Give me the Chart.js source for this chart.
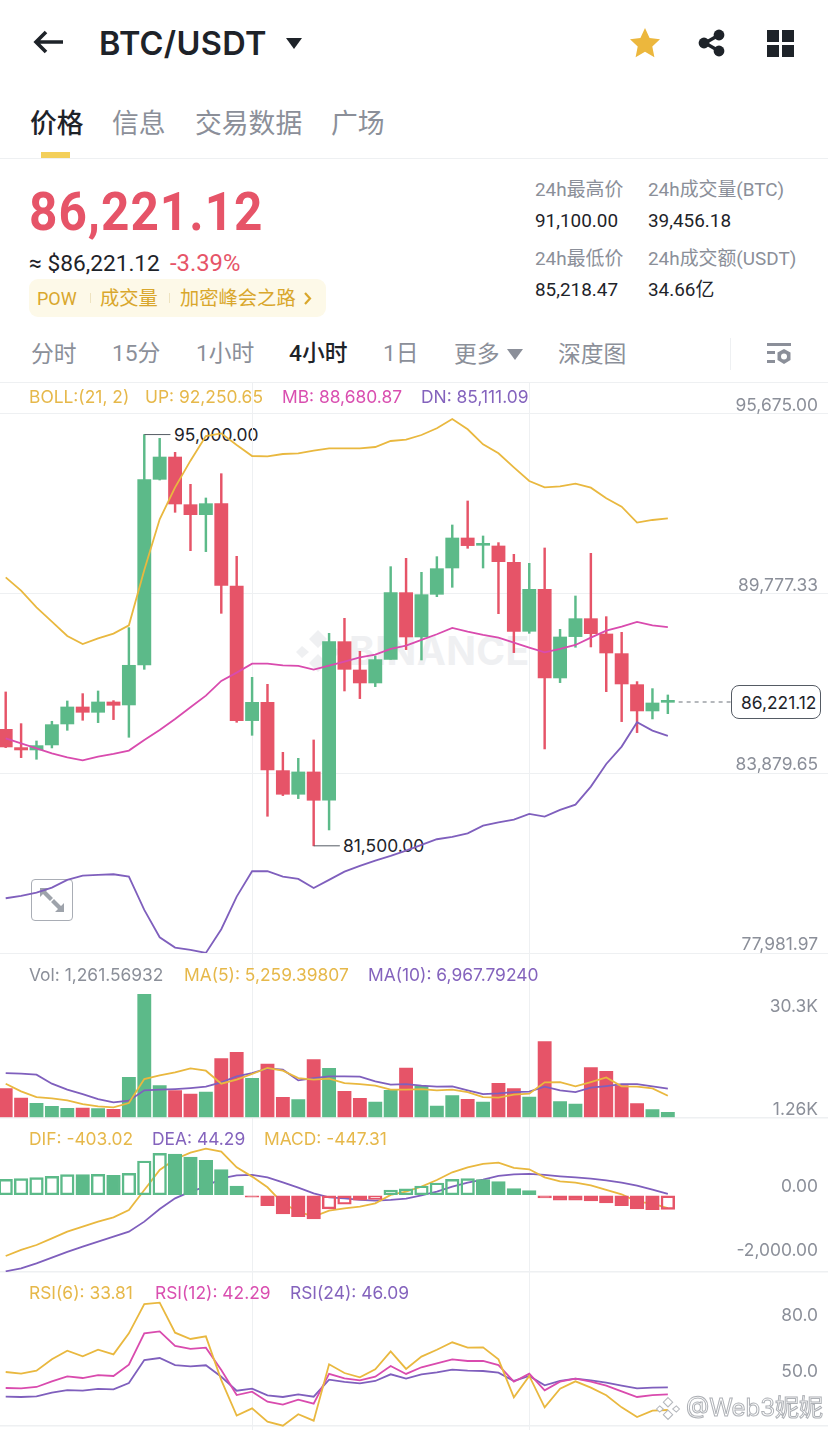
<!DOCTYPE html>
<html><head><meta charset="utf-8">
<script src="https://cdn.jsdelivr.net/npm/chart.js@4"></script>
<style>
html,body{margin:0;padding:0;background:#fff;width:828px;height:1430px;overflow:hidden}
body{position:relative;font-family:Inter,"Noto Sans CJK SC",sans-serif;color:#1e2329}
.t{position:absolute;white-space:nowrap;transform:translateY(-50%);line-height:1}
.g{color:#8b8f99}.y{color:#e6b84a}.m{color:#d94fb0}.p{color:#8463bd}
.f17{font-size:17.4px}.f23{font-size:22.8px}.f26{font-size:26.8px}.f19{font-size:18.9px}
canvas{position:absolute;left:0;top:382px;z-index:2}
svg{position:absolute}
</style></head><body>

<svg style="left:33px;top:29px" width="32" height="26" viewBox="0 0 32 26"><path d="M30 13H4M13 3L3 13l10 10" fill="none" stroke="#1e2329" stroke-width="3.6"/></svg>
<div class="t" style="left:99px;top:44px;font-size:32.5px;font-weight:600;letter-spacing:.3px">BTC/USDT</div>
<svg style="left:285px;top:37px" width="18" height="12"><path d="M1 1h16l-8 11z" fill="#1e2329"/></svg>
<svg style="left:629px;top:27px" width="32" height="32" viewBox="0 0 32 32"><path d="M16 1l4.6 10 10.4 1.2-7.7 7.2 2.1 10.8L16 24.8 6.6 30.2l2.1-10.8L1 12.2 11.4 11z" fill="#ecb73d"/></svg>
<svg style="left:697px;top:28px" width="30" height="30" viewBox="0 0 30 30"><path d="M22 7L8 15l14 8" stroke="#1e2329" stroke-width="3.4" fill="none"/><circle cx="22" cy="7" r="5.4" fill="#1e2329"/><circle cx="7" cy="15" r="5.4" fill="#1e2329"/><circle cx="22" cy="23" r="5.4" fill="#1e2329"/></svg>
<svg style="left:767px;top:30px" width="27" height="27"><path d="M0 0h12v12H0zM15 0h12v12H15zM0 15h12v12H0zM15 15h12v12H15z" fill="#1e2329"/></svg>

<div class="t f26" style="left:30px;top:123px;font-weight:500;">价格</div>
<div class="t f26 g" style="left:112px;top:123px">信息</div>
<div class="t f26 g" style="left:195px;top:123px">交易数据</div>
<div class="t f26 g" style="left:331px;top:123px">广场</div>
<div style="position:absolute;left:41px;top:152px;width:29px;height:6px;background:#f3cf5a"></div>
<div style="position:absolute;left:0;top:158px;width:828px;height:1px;background:#eef0f2"></div>

<div class="t" style="left:29px;top:212px;font-family:Roboto,sans-serif;font-size:54px;font-weight:700;color:#e65468;letter-spacing:1.1px;transform:translateY(-50%) scaleX(.917);transform-origin:left center">86,221.12</div>
<div class="t" style="left:29px;top:264px;font-family:Roboto,sans-serif;font-size:22.7px;">≈ $86,221.12</div>
<div class="t" style="left:170px;top:264px;font-family:Roboto,sans-serif;font-size:23.8px;color:#e65468">-3.39%</div>
<div style="position:absolute;left:29px;top:279px;width:297px;height:38px;border-radius:9px;background:#fdf9e8"></div>
<div class="t" style="left:37px;top:299px;font-size:18px;color:#d9a72c;font-family:Roboto,sans-serif">POW</div>
<div class="t" style="left:100px;top:299px;font-size:19.3px;color:#d9a72c">成交量</div>
<div class="t" style="left:180px;top:299px;font-size:19.3px;color:#d9a72c">加密峰会之路</div>
<svg style="left:303px;top:292px" width="9" height="13"><path d="M2 1l5 5.5L2 12" fill="none" stroke="#d9a72c" stroke-width="2.2"/></svg>
<div style="position:absolute;left:90px;top:293px;width:1px;height:10px;background:#eee3bf"></div>
<div style="position:absolute;left:169px;top:293px;width:1px;height:10px;background:#eee3bf"></div>

<div class="t g f19" style="left:535px;top:190px;font-family:Roboto,'Noto Sans CJK SC'">24h最高价</div>
<div class="t g f19" style="left:648px;top:190px;font-family:Roboto,'Noto Sans CJK SC'">24h成交量(BTC)</div>
<div class="t f19" style="left:535px;top:221px;font-family:Roboto,'Noto Sans CJK SC'">91,100.00</div>
<div class="t f19" style="left:648px;top:221px;font-family:Roboto,'Noto Sans CJK SC'">39,456.18</div>
<div class="t g f19" style="left:535px;top:259px;font-family:Roboto,'Noto Sans CJK SC'">24h最低价</div>
<div class="t g f19" style="left:648px;top:259px;font-family:Roboto,'Noto Sans CJK SC'">24h成交额(USDT)</div>
<div class="t f19" style="left:535px;top:290px;font-family:Roboto,'Noto Sans CJK SC'">85,218.47</div>
<div class="t f19" style="left:648px;top:290px;font-family:Roboto,'Noto Sans CJK SC'">34.66亿</div>

<div class="t f23 g" style="left:31px;top:354px">分时</div>
<div class="t f23 g" style="left:112px;top:354px;font-family:Roboto,'Noto Sans CJK SC'">15分</div>
<div class="t f23 g" style="left:196px;top:354px;font-family:Roboto,'Noto Sans CJK SC'">1小时</div>
<div class="t f23" style="left:289px;top:354px;font-weight:500;font-family:Roboto,'Noto Sans CJK SC'">4小时</div>
<div class="t f23 g" style="left:383px;top:354px;font-family:Roboto,'Noto Sans CJK SC'">1日</div>
<div class="t f23 g" style="left:454px;top:354px">更多</div>
<svg style="left:507px;top:349px" width="16" height="11"><path d="M0 0h16l-8 11z" fill="#8b8f99"/></svg>
<div class="t f23 g" style="left:558px;top:354px">深度图</div>
<div style="position:absolute;left:730px;top:338px;width:1px;height:32px;background:#eef0f2"></div>
<svg style="left:766px;top:342px" width="26" height="25" viewBox="0 0 26 25"><path d="M1 1h24v3H1zM1 9h8v3H1zM1 18h8v3H1z" fill="#8b8f99"/><path d="M18 7l6.5 3.6v7.4L18 22l-6.5-4v-7.4z" fill="#8b8f99"/><circle cx="18" cy="14.5" r="3" fill="#fff"/></svg>

<svg style="left:295px;top:627px" width="46" height="50" viewBox="0 0 46 50"><path d="M23 3l9 9-9 9-9-9zM7 19l7 6-7 6-6-6zM39 19l6 6-6 6-7-6zM23 27l9 9-9 9-9-9z" fill="#eff0f2"/></svg>
<div class="t" style="left:349px;top:650px;font-size:39px;font-weight:700;color:#eff0f2;letter-spacing:.4px">BINANCE</div>
<div style="position:absolute;left:31px;top:879px;width:40px;height:40px;border:1px solid #a9adb5;border-radius:4px"></div>
<svg style="left:39px;top:887px" width="26" height="26" viewBox="0 0 26 26"><path d="M1 1h9L7 4l7 7-3 3-7-7-3 3zM25 25h-9l3-3-7-7 3-3 7 7 3-3z" fill="#9ea3ab"/></svg>

<canvas id="c" width="828" height="1048" style="width:828px;height:1048px"></canvas>

<div class="t y f17" style="left:29px;top:397px;z-index:3">BOLL:(21, 2)</div>
<div class="t y f17" style="left:145px;top:397px;z-index:3">UP: 92,250.65</div>
<div class="t m f17" style="left:282px;top:397px;z-index:3">MB: 88,680.87</div>
<div class="t p f17" style="left:421px;top:397px;z-index:3">DN: 85,111.09</div>

<div class="t f17" style="left:174px;top:435px;z-index:1;">95,000.00</div>
<div class="t f17" style="left:343px;top:846px;z-index:1;">81,500.00</div>

<div style="position:absolute;left:731px;top:685px;width:88px;height:32px;border:1px solid #555b64;border-radius:8px;background:#fff;z-index:3"></div>
<div class="t f17" style="left:741px;top:703px;z-index:4">86,221.12</div>

<div class="t g f17" style="left:29px;top:975px;z-index:3">Vol: 1,261.56932</div>
<div class="t y f17" style="left:184px;top:975px;z-index:3">MA(5): 5,259.39807</div>
<div class="t p f17" style="left:368px;top:975px;z-index:3">MA(10): 6,967.79240</div>

<div class="t y f17" style="left:29px;top:1139px;z-index:3">DIF: -403.02</div>
<div class="t p f17" style="left:152px;top:1139px;z-index:3">DEA: 44.29</div>
<div class="t y f17" style="left:264px;top:1139px;z-index:3">MACD: -447.31</div>

<div class="t y f17" style="left:29px;top:1293px;z-index:3">RSI(6): 33.81</div>
<div class="t m f17" style="left:155px;top:1293px;z-index:3">RSI(12): 42.29</div>
<div class="t p f17" style="left:290px;top:1293px;z-index:3">RSI(24): 46.09</div>

<svg style="left:655px;top:1396px;z-index:3" width="26" height="26" viewBox="0 0 46 50"><path d="M23 3l9 9-9 9-9-9zM7 19l7 6-7 6-6-6zM39 19l6 6-6 6-7-6zM23 27l9 9-9 9-9-9z" fill="#fff" stroke="#b5b8bd" stroke-width="2"/></svg>
<div class="t" style="left:686px;top:1408px;z-index:3;font-size:24px;color:#fff;-webkit-text-stroke:1px #aeb1b6;">@Web3妮妮</div>

<script>
const opens=[85325,84724,84647,84811,85500,86058,85883,86222,86124,87437,93530,94263,92699,92371,92732,90029,85610,86211,83969,83192,83925,82995,88202,87272,86846,87623,89811,88356,89756,90620,91605,91365,91343,90806,88542,89920,87010,88367,88957,88454,87809,86791,85927,86211];
const closes=[84745,84647,84789,85478,86058,85883,86222,86113,87426,93519,94263,92721,92371,92732,90051,85610,86211,83991,83192,83925,82995,88202,87294,86846,87612,89811,88356,89745,90598,91605,91354,91398,90828,88542,89920,87010,88356,88957,88465,87830,86813,85927,86189,86221.12];
const highs=[86551,85511,84942,85588,86255,86496,86583,86266,88662,95000,94876,94416,93367,92918,93716,91003,87032,86802,84570,84373,84975,88476,88968,87885,87732,90664,90938,90478,90992,92032,92820,91671,91452,91069,90774,91277,88607,89701,91102,89023,88509,86890,86660,86452];
const lows=[84724,84395,84341,84713,85292,85621,85544,85643,85063,87294,93508,92448,91189,91157,89132,85555,85128,82470,83149,83050,81500,82021,86583,86332,86726,87623,87940,87601,89679,89986,91266,90620,89121,87842,88476,84680,86857,88017,88028,86561,85577,85216,85665,85839];
const bollUp=[90314,89877,89330,88859,88389,88126,88312,88465,88739,90555,92218,93268,94143,94953,95040,94658,94296,94286,94362,94384,94472,94548,94548,94548,94592,94789,94833,94986,95205,95511,95172,94679,94384,93925,93476,93268,93301,93389,93257,92907,92634,92109,92196,92250.65];
const bollMb=[85030,84866,84702,84538,84407,84308,84429,84516,84626,84976,85304,85665,86048,86431,86912,87186,87481,87481,87426,87404,87284,87415,87547,87689,87777,87962,88072,88258,88444,88652,88531,88422,88334,88170,88006,87853,87962,88094,88334,88564,88695,88849,88739,88680.87];
const bollDn=[79779,79856,79965,80130,80381,80523,80545,80567,80490,79396,78499,78160,78083,77985,78762,79834,80665,80665,80490,80413,80118,80381,80654,80840,81015,81169,81344,81530,81716,81792,81912,82164,82273,82361,82547,82460,82678,82853,83444,84188,84757,85555,85282,85111.09];
const volumes=[6931,4700,3426,2709,2231,2310,2151,1992,9640,29478,7648,6453,5657,6135,14102,15615,9401,12827,4860,4302,13862,11791,6294,4621,3744,6533,11871,7489,2788,5258,4382,3744,8206,6931,4940,18165,3824,3266,11950,11074,7648,3346,1912,1261.57];
const volMa5=[8126,6294,4940,4621,4143,3266,2709,2470,3505,9242,10118,10835,11791,11233,8126,9082,10437,11871,11233,9481,9082,9321,8286,8047,7648,6692,6692,6852,6533,6692,6135,4940,4780,5497,5736,8445,8525,7489,8525,9640,7489,7409,7011,5259.4];
const volMa10=[10676,10516,10277,8126,6692,5657,4462,3665,4063,6533,6692,6852,7091,7409,8445,9879,10676,11791,11472,8923,9481,9879,9879,9799,8684,7887,8047,7648,7409,7489,6533,5657,5816,6135,6214,7409,6533,6135,7170,7569,8047,8047,7489,6967.8];
const macdBars=[504,525,556,598,651,651,661,630,693,1081,1323,1302,1207,1102,808,294,-21,-325,-588,-672,-745,-430,-283,-150,-130,168,200,294,388,504,525,493,430,210,147,-84,-157,-157,-178,-241,-325,-430,-451,-447.31];
const macdDif=[-1911,-1722,-1565,-1355,-1145,-987,-830,-693,-462,168,798,1134,1344,1470,1376,882,588,252,-252,-515,-672,-483,-410,-357,-252,10,116,273,483,725,882,987,1029,861,819,567,441,399,315,168,32,-200,-262,-403.02];
const macdDea=[-2394,-2300,-2142,-1964,-1785,-1617,-1460,-1302,-1145,-830,-431,-95,116,273,536,630,641,567,410,242,63,-63,-95,-147,-168,-147,-105,0,116,273,399,494,609,662,672,641,599,567,525,473,399,305,179,44.29];
const rsi6=[54.35,53.45,55.08,61.2,65.9,62.8,66.4,63.9,75.25,91.1,91.8,75.6,72.2,73.6,50,30.75,34.7,27.5,25.3,31.5,28.05,58.5,53.8,51.5,55.8,65.5,56,62.65,66.4,70.4,67.5,67.7,61.2,40.65,52.2,35.25,45.35,49.3,45.9,41.75,35.25,30,33.45,33.81];
const rsi12=[45.7,45.5,46.25,49.3,52,51.1,52.7,52.2,58.3,75.25,76.3,68.4,66.8,67.5,55.4,41.9,43.7,38.3,36.7,39.4,37.2,53.3,50.9,49.85,51.8,57.6,53.3,56.9,59,61.2,60.3,60.3,58.1,49.1,53.45,44.45,49.1,50.75,49.1,47,43.9,40.85,41.9,42.29];
const rsi24=[41,40.85,41.2,43.2,44.6,44.25,45.2,45,48.4,60.8,61.9,58.1,57.4,58,51.8,44.25,45.35,41.75,40.85,42.3,41,50.2,49,48.2,49.5,53.1,50.75,53.1,54.2,55.6,55.1,54.9,54,49.5,52.2,47.15,49.5,50.75,49.85,48.6,47,45.5,45.9,46.09];
const priceTicks=[95675,89777.33,83879.65,77981.97];
const volTicks=[24500,0], volTickLabels=['30.3K','1.26K'];
const macdTicks=[0,-2000], rsiTicks=[80,50];
const lastPrice=86221.12, swingHigh=95000, swingLow=81500;

const GREEN='#5cba89',RED='#e65468',YEL='#e9b83f',MAG='#d94bae',PUR='#7f5fbd';
const GRID='#eef0f2',TICK='#8b8f99';
const xy=a=>a.map((y,x)=>({x,y}));
const up=i=>closes[i]>=opens[i];
const dirColor=c=>c.dataIndex===undefined?GREEN:(up(c.dataIndex)?GREEN:RED);
const line=(label,data,color,yAxisID,order=1)=>({type:'line',label,data:xy(data),borderColor:color,borderWidth:1.8,pointRadius:0,tension:0,yAxisID,order,fill:false});
const bar=(label,data,extra)=>Object.assign({type:'bar',label,grouped:false,borderWidth:0,data},extra);
const hollow=i=>i===0||macdBars[i]>macdBars[i-1];
const macdColor=c=>macdBars[c.dataIndex]>=0?GREEN:RED;

function yAxis(min,max,weight,ticksList,labelFn,lines){
  return {type:'linear',position:'right',stack:'panes',stackWeight:weight,min,max,
    border:{display:false},
    grid:{drawTicks:false,color:c=>c.tick&&c.tick.line?GRID:'rgba(0,0,0,0)',lineWidth:c=>c.tick&&c.tick.line==2?1.6:1},
    ticks:{mirror:true,padding:-10,labelOffset:-8.4,autoSkip:false,color:TICK,font:{family:'Inter',size:17.4},callback:labelFn},
    afterBuildTicks(s){s.ticks=ticksList.map(v=>({value:v,line:lines?lines(v):0}))},
    afterFit(s){s.paddingTop=0;s.paddingBottom=0;s.width=0}};
}
const fmt=v=>v.toLocaleString('en-US',{minimumFractionDigits:2,maximumFractionDigits:2});

new Chart(document.getElementById('c'),{
  data:{datasets:[
    line('UP',bollUp,YEL,'yMain'),
    line('MB',bollMb,MAG,'yMain'),
    line('DN',bollDn,PUR,'yMain'),
    bar('Candle',opens.map((o,i)=>({x:i,y:[o,closes[i]]})),{yAxisID:'yMain',order:2,barThickness:13.2,minBarLength:2,backgroundColor:dirColor}),
    bar('Wick',highs.map((h,i)=>({x:i,y:[lows[i],h]})),{yAxisID:'yMain',order:3,barThickness:1.8,backgroundColor:dirColor}),
    {type:'line',label:'High marker',data:[{x:9,y:swingHigh},{x:10.7,y:swingHigh}],borderColor:'#555b64',borderWidth:1,pointRadius:0,yAxisID:'yMain',order:0},
    {type:'line',label:'Low marker',data:[{x:20,y:swingLow},{x:21.7,y:swingLow}],borderColor:'#555b64',borderWidth:1,pointRadius:0,yAxisID:'yMain',order:0},
    {type:'line',label:'Last price',data:[{x:43.7,y:lastPrice},{x:47.2,y:lastPrice}],borderColor:'#6d727b',borderWidth:1.2,borderDash:[4,4],pointRadius:0,yAxisID:'yMain',order:0},

    line('MA5',volMa5,YEL,'yVol'),
    line('MA10',volMa10,PUR,'yVol'),
    bar('Vol',xy(volumes),{yAxisID:'yVol',order:2,barThickness:13.2,backgroundColor:dirColor}),

    line('DIF',macdDif,YEL,'yMacd',2),
    line('DEA',macdDea,PUR,'yMacd',2),
    bar('MACD',xy(macdBars),{yAxisID:'yMacd',order:1,barThickness:13.6,minBarLength:2,borderSkipped:false,borderWidth:1.8,
      borderColor:macdColor,backgroundColor:c=>hollow(c.dataIndex)?'rgba(255,255,255,0)':macdColor(c)}),

    line('RSI6',rsi6,YEL,'yRsi'),
    line('RSI12',rsi12,MAG,'yRsi'),
    line('RSI24',rsi24,PUR,'yRsi'),
  ]},
  options:{
    responsive:false,animation:false,events:[],devicePixelRatio:window.devicePixelRatio||1,
    layout:{padding:0},
    plugins:{legend:{display:false},tooltip:{enabled:false}},
    scales:{
      x:{type:'linear',min:-0.37,max:53.4,offset:false,position:'bottom',border:{display:false},
        grid:{offset:false,drawTicks:false,color:GRID,lineWidth:1},
        ticks:{display:false},
        afterBuildTicks(s){s.ticks=[{value:16},{value:34}]}},
      yMain:yAxis(77981.97,96725.4,571,[...priceTicks,96725.4],v=>priceTicks.includes(v)?fmt(v):'',()=>1),
      yVol:yAxis(0,39363,164.7,volTicks,v=>volTickLabels[volTicks.indexOf(v)],v=>v===0?2:0),
      yMacd:yAxis(-2416,2444,154.3,[...macdTicks,-2416],v=>macdTicks.includes(v)?fmt(v):'',v=>v===-2416?2:0),
      yRsi:yAxis(23,108.4,158,[...rsiTicks,25.16],v=>rsiTicks.includes(v)?v.toFixed(1):'',v=>v===25.16?2:0),
    }
  }
});
</script>
</body></html>
